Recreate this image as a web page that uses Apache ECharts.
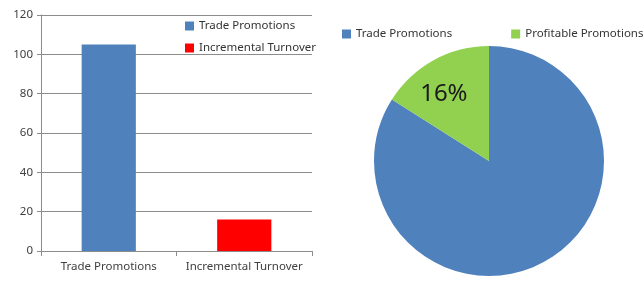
<!DOCTYPE html>
<html>
<head>
<meta charset="utf-8">
<script src="https://cdn.jsdelivr.net/npm/echarts@6/dist/echarts.min.js"></script>
<style>
  html, body { margin: 0; padding: 0; background: #fff; }
  #chart { width: 643px; height: 289px; }
</style>
</head>
<body>
<div id="chart"></div>
<script>
const categories = ['Trade Promotions', 'Incremental Turnover'];
const barValues = [105, 16];
const barColors = ['#4f81bd', '#ff0000'];
const pieNames = ['Trade Promotions', 'Profitable Promotions'];
const pieValues = [84, 16];
const pieColors = ['#4f81bd', '#92d050'];

const font = 'Noto Sans';
const textColor = '#404040';
const fs = 11.5;

// one bar series per category so each gets its own legend entry
const barSeries = categories.map((name, i) => ({
  name: name,
  type: 'bar',
  stack: 'one',
  barWidth: '40%',
  itemStyle: { color: barColors[i] },
  data: barValues.map((v, j) => (j === i ? v : '-'))
}));

const chart = echarts.init(document.getElementById('chart'));
chart.setOption({
  animation: false,
  textStyle: { fontFamily: font },
  legend: [
    {
      data: categories,
      orient: 'vertical',
      left: 180, top: 15,
      icon: 'rect',
      itemWidth: 9, itemHeight: 9, itemGap: 10,
      textStyle: { fontSize: fs, color: '#333', fontFamily: font }
    },
    {
      data: pieNames,
      orient: 'horizontal',
      left: 337, top: 23, width: 320,
      icon: 'rect',
      itemWidth: 9, itemHeight: 9, itemGap: 59,
      textStyle: { fontSize: fs, color: '#333', fontFamily: font }
    }
  ],
  grid: { left: 41, right: 331, top: 15, bottom: 38 },
  xAxis: {
    type: 'category',
    data: categories,
    axisLine: { lineStyle: { color: '#8c8c8c' } },
    axisTick: { show: true, length: 5, lineStyle: { color: '#8c8c8c' } },
    axisLabel: { color: textColor, fontSize: fs, margin: 10, interval: 0 }
  },
  yAxis: {
    type: 'value',
    min: 0, max: 120, interval: 20,
    axisLine: { show: true, lineStyle: { color: '#8c8c8c' } },
    axisTick: { show: true, length: 4, lineStyle: { color: '#8c8c8c' } },
    axisLabel: { color: textColor, fontSize: fs, margin: 8 },
    splitLine: { lineStyle: { color: '#8c8c8c' } }
  },
  series: barSeries.concat([{
    type: 'pie',
    center: [489, 161],
    radius: 115,
    startAngle: 90,
    clockwise: true,
    label: { show: false },
    labelLine: { show: false },
    emphasis: { scale: false },
    data: pieNames.map((n, i) => ({
      name: n,
      value: pieValues[i],
      itemStyle: { color: pieColors[i] },
      label: i === 1 ? {
        show: true, position: 'inside', formatter: '{d}%',
        fontSize: 24, color: '#1a1a1a', fontFamily: font
      } : { show: false }
    })),
    labelLayout: function () {
      return { dx: -16, dy: -14 };
    }
  }])
});
</script>
</body>
</html>
